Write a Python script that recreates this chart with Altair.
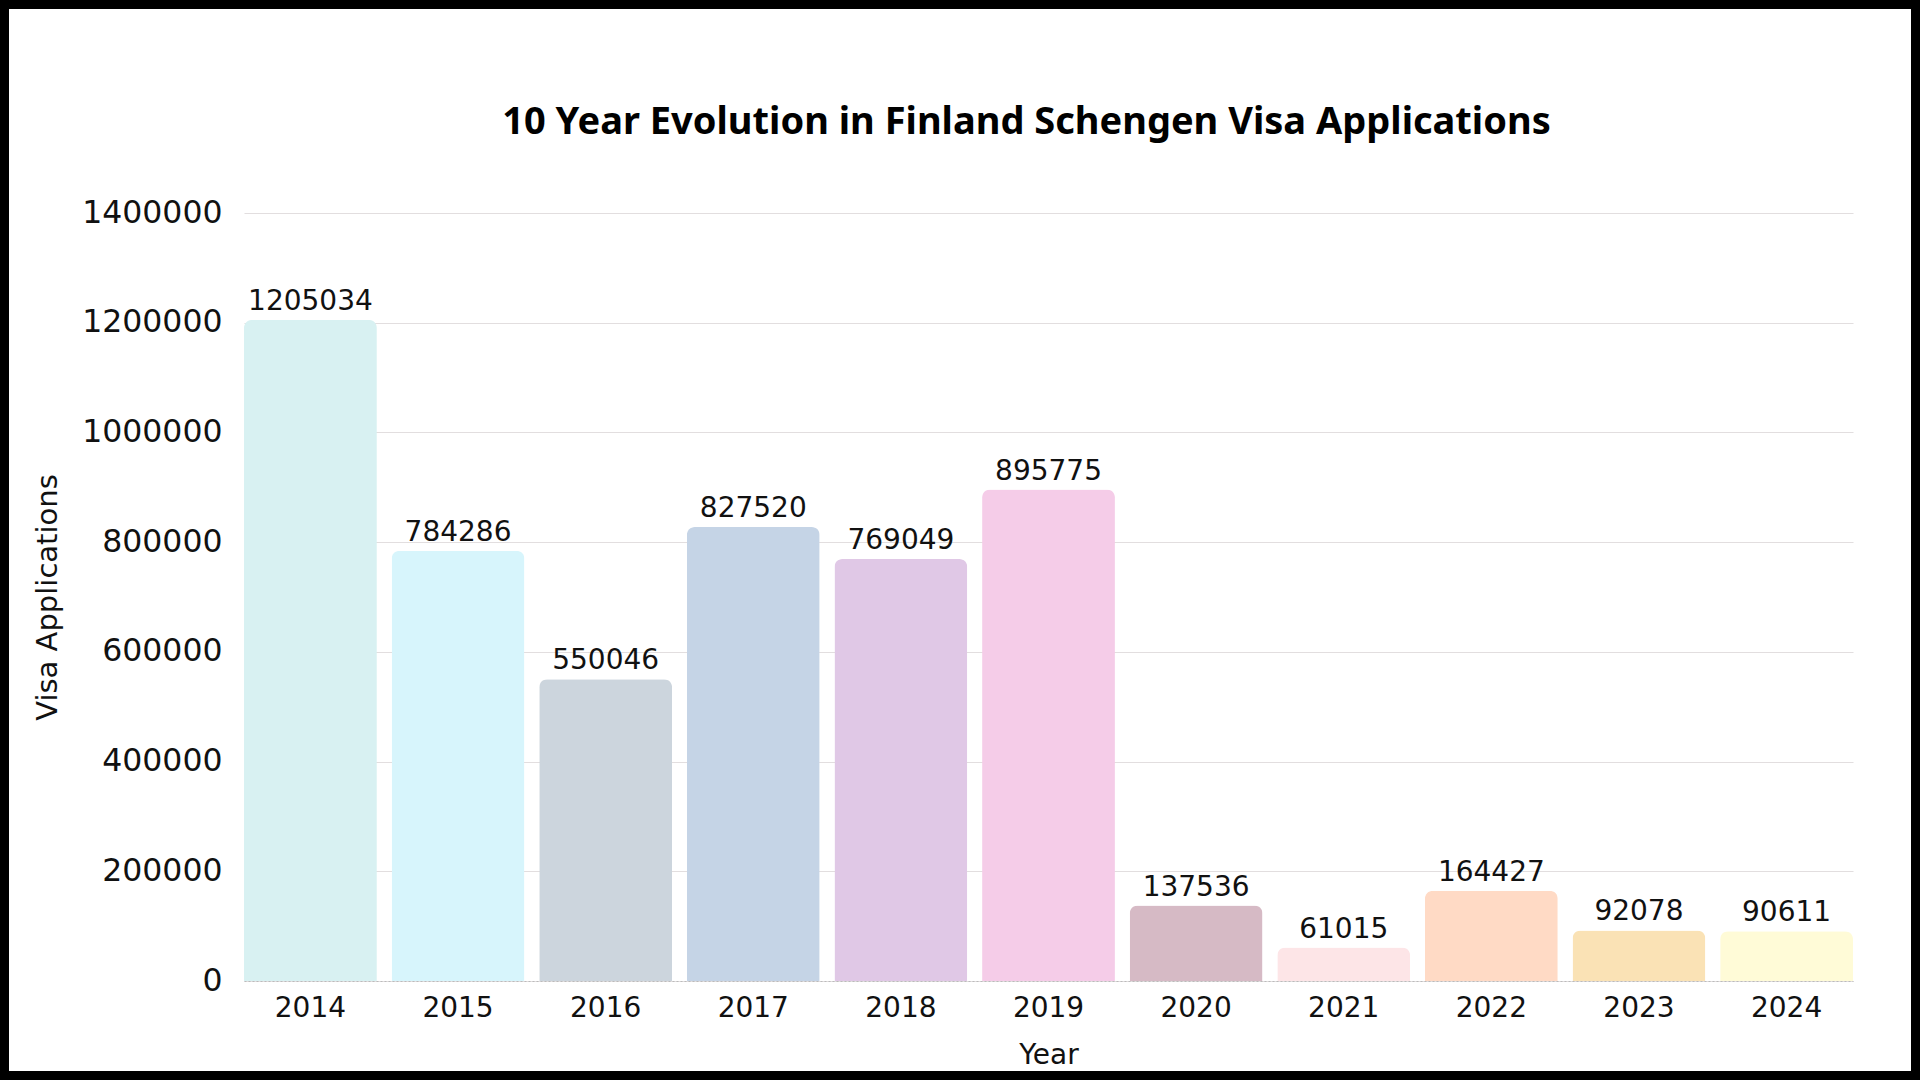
import altair as alt
import pandas as pd

years = ["2014", "2015", "2016", "2017", "2018", "2019", "2020", "2021", "2022", "2023", "2024"]
applications = [1205034, 784286, 550046, 827520, 769049, 895775, 137536, 61015, 164427, 92078, 90611]
bar_colors = ["#D8F1F2", "#D7F5FC", "#CCD5DD", "#C5D4E6", "#E0C8E6", "#F5CCE8",
              "#D6BAC5", "#FDE5E7", "#FFDAC5", "#FAE2B5", "#FFFBD7"]
y_ticks = [0, 200000, 400000, 600000, 800000, 1000000, 1200000, 1400000]

df = pd.DataFrame({"Year": years, "Applications": applications, "Color": bar_colors})

W, H = 1609, 768
PL, PT, PR, PB = 244, 213, 67, 99
FONT = "DejaVu Sans"

x_enc = alt.X("Year:N", sort=years,
              scale=alt.Scale(paddingInner=0.1, paddingOuter=0),
              axis=alt.Axis(title="Year", labelAngle=0, labelFontSize=28, labelFont=FONT,
                            labelColor="#111111", labelPadding=13, ticks=False,
                            domain=True, domainColor="#BBBBBB", domainDash=[2, 2], domainWidth=1,
                            titleFontSize=28, titleFont=FONT, titleFontWeight="normal",
                            titleColor="#111111", titlePadding=19))
y_enc = alt.Y("Applications:Q",
              scale=alt.Scale(domain=[0, 1400000], nice=False),
              axis=alt.Axis(title="Visa Applications", values=y_ticks, format="d",
                            labelFontSize=31.5, labelFont=FONT, labelColor="#111111",
                            labelPadding=22, ticks=False, domain=False,
                            grid=True, gridColor="#E2DEDF", gridWidth=1.2,
                            titleFontSize=29, titleFont=FONT, titleFontWeight="normal",
                            titleColor="#111111", titlePadding=19))

bars = alt.Chart(df).mark_bar(cornerRadiusTopLeft=8, cornerRadiusTopRight=8).encode(
    x=x_enc, y=y_enc,
    color=alt.Color("Color:N", scale=None),
)

labels = alt.Chart(df).mark_text(baseline="bottom", dy=-4, fontSize=28, font=FONT,
                                 color="#111111").encode(
    x=alt.X("Year:N", sort=years),
    y=alt.Y("Applications:Q"),
    text=alt.Text("Applications:Q", format="d"),
)

frame = alt.Chart(pd.DataFrame({"f": [0]})).mark_rect(
    filled=False, stroke="black", strokeWidth=18
).encode(
    x=alt.value(-PL), x2=alt.value(W + PR),
    y=alt.value(-PT), y2=alt.value(H + PB),
)

chart = alt.layer(bars, labels, frame).properties(
    width=W, height=H,
    padding={"left": PL, "top": PT, "right": PR, "bottom": PB},
    autosize=alt.AutoSizeParams(type="none"),
    background="white",
    title=alt.TitleParams("10 Year Evolution in Finland Schengen Visa Applications",
                          font="Noto Sans", fontSize=38, fontWeight="bold", color="#000000",
                          anchor="middle", frame="group", offset=-151, dx=-22),
).configure_view(stroke=None)

chart.save("out.html", embed_options={"renderer": "svg", "actions": False})
